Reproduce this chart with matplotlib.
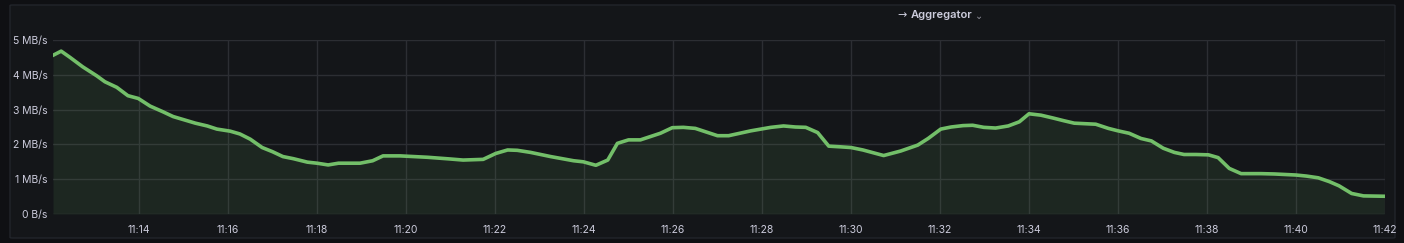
import matplotlib.pyplot as plt
import matplotlib.dates as mdates
import matplotlib as mpl
from matplotlib.patches import FancyBboxPatch
from datetime import datetime

mpl.rcParams['font.family'] = ['Inter', 'DejaVu Sans']

# ---------- data: Aggregator throughput (MB/s) ----------
times = ["11:12:04", "11:12:15", "11:12:27", "11:12:44", "11:13:03", "11:13:14",
         "11:13:30", "11:13:45", "11:13:59", "11:14:15", "11:14:32", "11:14:46",
         "11:15:16", "11:15:32", "11:15:45", "11:16:03", "11:16:16", "11:16:30",
         "11:16:46", "11:17:00", "11:17:14", "11:17:28", "11:17:47", "11:18:00",
         "11:18:15", "11:18:29", "11:18:58", "11:19:15", "11:19:29", "11:19:52",
         "11:20:29", "11:21:00", "11:21:17", "11:21:44", "11:22:01", "11:22:17",
         "11:22:30", "11:22:48", "11:23:15", "11:23:46", "11:23:59", "11:24:16",
         "11:24:32", "11:24:45", "11:25:00", "11:25:16", "11:25:43", "11:25:59",
         "11:26:14", "11:26:30", "11:27:00", "11:27:15", "11:27:45", "11:28:12",
         "11:28:29", "11:28:45", "11:28:59", "11:29:15", "11:29:30", "11:29:46",
         "11:30:00", "11:30:16", "11:30:44", "11:31:07", "11:31:30", "11:31:44",
         "11:32:01", "11:32:15", "11:32:31", "11:32:44", "11:32:59", "11:33:15",
         "11:33:32", "11:33:47", "11:34:00", "11:34:16", "11:34:32", "11:34:47",
         "11:35:01", "11:35:30", "11:35:47", "11:36:00", "11:36:15", "11:36:31",
         "11:36:45", "11:37:01", "11:37:16", "11:37:29", "11:37:45", "11:38:02",
         "11:38:15", "11:38:30", "11:38:46", "11:39:13", "11:39:31", "11:40:00",
         "11:40:14", "11:40:30", "11:40:45", "11:40:58", "11:41:15", "11:41:31",
         "11:41:59"]
rate = [4.56, 4.68, 4.50, 4.23, 3.97, 3.80,
        3.64, 3.40, 3.32, 3.10, 2.94, 2.80,
        2.61, 2.53, 2.44, 2.38, 2.30, 2.15,
        1.91, 1.79, 1.65, 1.59, 1.49, 1.46,
        1.41, 1.46, 1.46, 1.53, 1.67, 1.67,
        1.63, 1.58, 1.55, 1.57, 1.74, 1.84,
        1.83, 1.77, 1.65, 1.53, 1.50, 1.40,
        1.55, 2.03, 2.13, 2.13, 2.32, 2.48,
        2.49, 2.46, 2.25, 2.25, 2.39, 2.49,
        2.53, 2.50, 2.49, 2.34, 1.95, 1.93,
        1.91, 1.84, 1.68, 1.81, 1.98, 2.17,
        2.44, 2.50, 2.54, 2.55, 2.49, 2.47,
        2.53, 2.65, 2.88, 2.84, 2.76, 2.68,
        2.61, 2.58, 2.46, 2.39, 2.32, 2.17,
        2.10, 1.89, 1.77, 1.71, 1.71, 1.70,
        1.62, 1.31, 1.16, 1.16, 1.15, 1.12,
        1.09, 1.04, 0.93, 0.81, 0.59, 0.52,
        0.51]
y_ticks = [0, 1, 2, 3, 4, 5]
y_labels = ['0 B/s', '1 MB/s', '2 MB/s', '3 MB/s', '4 MB/s', '5 MB/s']

t = [datetime.strptime('2024-01-01 ' + s, '%Y-%m-%d %H:%M:%S') for s in times]

bg_outer = '#0f1013'
bg_panel = '#141619'
green = '#73bf69'
txt = '#ccccdc'

fig = plt.figure(figsize=(14.04, 2.43), dpi=100, facecolor=bg_outer)
panel = FancyBboxPatch((10 / 1404, 5 / 243), 1385 / 1404, 233 / 243,
                       boxstyle='round,pad=0,rounding_size=0.002',
                       transform=fig.transFigure, facecolor=bg_panel,
                       edgecolor='#22252b', linewidth=1, zorder=-5)
fig.patches.append(panel)

ax = fig.add_axes([53 / 1404, 29 / 243, 1332 / 1404, 174 / 243])
ax.set_zorder(2)
ax.set_facecolor('none')
ax.plot(t, rate, color=green, linewidth=2.6, solid_joinstyle='round')
ax.fill_between(t, rate, 0, color=green, alpha=0.1, linewidth=0)

ax.set_ylim(0, 5)
ax.set_xlim(t[0], datetime(2024, 1, 1, 11, 42, 0))
ax.set_yticks(y_ticks)
ax.set_yticklabels(y_labels)
ax.xaxis.set_major_locator(mdates.MinuteLocator(byminute=range(0, 60, 2)))
ax.xaxis.set_major_formatter(mdates.DateFormatter('%H:%M'))

ax.grid(True, color='#2c2e33', linewidth=1)
ax.set_axisbelow(True)
for sp in ax.spines.values():
    sp.set_visible(False)
ax.tick_params(axis='both', length=0, colors=txt, labelsize=7.5)
ax.tick_params(axis='y', pad=4)
ax.tick_params(axis='x', pad=8)

fig.text(897 / 1404, 1 - 15 / 243, '\u2192', color=txt,
         fontsize=8, va='center', ha='left', family=['DejaVu Sans'])
fig.text(911 / 1404, 1 - 15 / 243, 'Aggregator', color=txt,
         fontsize=8, fontweight='semibold', va='center', ha='left')
fig.text(975 / 1404, 1 - 16 / 243, '\u2304', color='#8e8e99',
         fontsize=7, va='center', ha='left', family=['DejaVu Sans'])

plt.savefig('out.png', dpi=100, facecolor=bg_outer)
plt.close()
